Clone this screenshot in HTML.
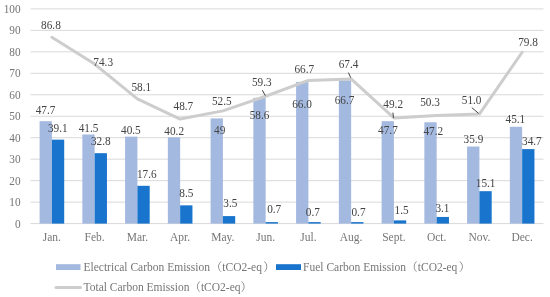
<!DOCTYPE html><html><head><meta charset="utf-8"><style>html,body{margin:0;padding:0;background:#fff;width:550px;height:297px;overflow:hidden}svg{display:block;filter:blur(0.35px)}text{font-family:'Liberation Serif', 'Noto Serif CJK SC', serif;fill:#767676}text.d{fill:#444444}</style></head><body>
<svg width="550" height="297" viewBox="0 0 550 297">
<rect width="550" height="297" fill="#fff"/>
<line x1="30.50" y1="223.60" x2="543.50" y2="223.60" stroke="#D9D9D9" stroke-width="1"/>
<line x1="30.50" y1="202.13" x2="543.50" y2="202.13" stroke="#D9D9D9" stroke-width="1"/>
<line x1="30.50" y1="180.66" x2="543.50" y2="180.66" stroke="#D9D9D9" stroke-width="1"/>
<line x1="30.50" y1="159.19" x2="543.50" y2="159.19" stroke="#D9D9D9" stroke-width="1"/>
<line x1="30.50" y1="137.72" x2="543.50" y2="137.72" stroke="#D9D9D9" stroke-width="1"/>
<line x1="30.50" y1="116.25" x2="543.50" y2="116.25" stroke="#D9D9D9" stroke-width="1"/>
<line x1="30.50" y1="94.78" x2="543.50" y2="94.78" stroke="#D9D9D9" stroke-width="1"/>
<line x1="30.50" y1="73.31" x2="543.50" y2="73.31" stroke="#D9D9D9" stroke-width="1"/>
<line x1="30.50" y1="51.84" x2="543.50" y2="51.84" stroke="#D9D9D9" stroke-width="1"/>
<line x1="30.50" y1="30.37" x2="543.50" y2="30.37" stroke="#D9D9D9" stroke-width="1"/>
<line x1="30.50" y1="8.90" x2="543.50" y2="8.90" stroke="#D9D9D9" stroke-width="1"/>
<text transform="translate(20.6 227.65) scale(0.98 1)" font-size="11.5" text-anchor="end">0</text>
<text transform="translate(20.6 206.18) scale(0.98 1)" font-size="11.5" text-anchor="end">10</text>
<text transform="translate(20.6 184.71) scale(0.98 1)" font-size="11.5" text-anchor="end">20</text>
<text transform="translate(20.6 163.24) scale(0.98 1)" font-size="11.5" text-anchor="end">30</text>
<text transform="translate(20.6 141.77) scale(0.98 1)" font-size="11.5" text-anchor="end">40</text>
<text transform="translate(20.6 120.30) scale(0.98 1)" font-size="11.5" text-anchor="end">50</text>
<text transform="translate(20.6 98.83) scale(0.98 1)" font-size="11.5" text-anchor="end">60</text>
<text transform="translate(20.6 77.36) scale(0.98 1)" font-size="11.5" text-anchor="end">70</text>
<text transform="translate(20.6 55.89) scale(0.98 1)" font-size="11.5" text-anchor="end">80</text>
<text transform="translate(20.6 34.42) scale(0.98 1)" font-size="11.5" text-anchor="end">90</text>
<text transform="translate(20.6 12.95) scale(0.98 1)" font-size="11.5" text-anchor="end">100</text>
<rect x="39.60" y="121.19" width="12.30" height="102.41" fill="#A4B9DF"/>
<rect x="51.90" y="139.65" width="12.30" height="83.95" fill="#1874CD"/>
<rect x="82.35" y="134.50" width="12.30" height="89.10" fill="#A4B9DF"/>
<rect x="94.65" y="153.18" width="12.30" height="70.42" fill="#1874CD"/>
<rect x="125.10" y="136.65" width="12.30" height="86.95" fill="#A4B9DF"/>
<rect x="137.40" y="185.81" width="12.30" height="37.79" fill="#1874CD"/>
<rect x="167.85" y="137.29" width="12.30" height="86.31" fill="#A4B9DF"/>
<rect x="180.15" y="205.35" width="12.30" height="18.25" fill="#1874CD"/>
<rect x="210.60" y="118.40" width="12.30" height="105.20" fill="#A4B9DF"/>
<rect x="222.90" y="216.09" width="12.30" height="7.51" fill="#1874CD"/>
<rect x="253.35" y="97.79" width="12.30" height="125.81" fill="#A4B9DF"/>
<rect x="265.65" y="222.10" width="12.30" height="1.50" fill="#1874CD"/>
<rect x="296.10" y="81.90" width="12.30" height="141.70" fill="#A4B9DF"/>
<rect x="308.40" y="222.10" width="12.30" height="1.50" fill="#1874CD"/>
<rect x="338.85" y="80.40" width="12.30" height="143.20" fill="#A4B9DF"/>
<rect x="351.15" y="222.10" width="12.30" height="1.50" fill="#1874CD"/>
<rect x="381.60" y="121.19" width="12.30" height="102.41" fill="#A4B9DF"/>
<rect x="393.90" y="220.38" width="12.30" height="3.22" fill="#1874CD"/>
<rect x="424.35" y="122.26" width="12.30" height="101.34" fill="#A4B9DF"/>
<rect x="436.65" y="216.94" width="12.30" height="6.66" fill="#1874CD"/>
<rect x="467.10" y="146.52" width="12.30" height="77.08" fill="#A4B9DF"/>
<rect x="479.40" y="191.18" width="12.30" height="32.42" fill="#1874CD"/>
<rect x="509.85" y="126.77" width="12.30" height="96.83" fill="#A4B9DF"/>
<rect x="522.15" y="149.10" width="12.30" height="74.50" fill="#1874CD"/>
<polyline points="51.88,37.24 94.62,64.08 137.38,98.86 180.12,119.04 222.88,110.88 265.62,96.28 308.38,80.40 351.12,78.89 393.88,117.97 436.62,115.61 479.38,114.10 522.12,52.27" fill="none" stroke="#CDCDCD" stroke-width="3" stroke-linejoin="round" stroke-linecap="round"/>
<line x1="262.3" y1="90.2" x2="265.3" y2="95.6" stroke="#444444" stroke-width="1"/>
<line x1="348.4" y1="72.6" x2="350.8" y2="77.8" stroke="#444444" stroke-width="1"/>
<line x1="392.9" y1="112.6" x2="393.5" y2="118.0" stroke="#444444" stroke-width="1"/>
<line x1="471.8" y1="107.7" x2="478.6" y2="113.4" stroke="#444444" stroke-width="1"/>
<text class="d" transform="translate(45.55 114.38) scale(0.98 1)" font-size="11.5" text-anchor="middle">47.7</text>
<text class="d" transform="translate(88.53 131.68) scale(0.98 1)" font-size="11.5" text-anchor="middle">41.5</text>
<text class="d" transform="translate(130.88 133.62) scale(0.98 1)" font-size="11.5" text-anchor="middle">40.5</text>
<text class="d" transform="translate(174.18 135.32) scale(0.98 1)" font-size="11.5" text-anchor="middle">40.2</text>
<text class="d" transform="translate(219.72 134.40) scale(0.98 1)" font-size="11.5" text-anchor="middle">49</text>
<text class="d" transform="translate(259.50 119.33) scale(0.98 1)" font-size="11.5" text-anchor="middle">58.6</text>
<text class="d" transform="translate(302.00 107.78) scale(0.98 1)" font-size="11.5" text-anchor="middle">66.0</text>
<text class="d" transform="translate(344.52 103.62) scale(0.98 1)" font-size="11.5" text-anchor="middle">66.7</text>
<text class="d" transform="translate(387.95 133.73) scale(0.98 1)" font-size="11.5" text-anchor="middle">47.7</text>
<text class="d" transform="translate(433.27 135.32) scale(0.98 1)" font-size="11.5" text-anchor="middle">47.2</text>
<text class="d" transform="translate(473.45 143.22) scale(0.98 1)" font-size="11.5" text-anchor="middle">35.9</text>
<text class="d" transform="translate(515.40 123.42) scale(0.98 1)" font-size="11.5" text-anchor="middle">45.1</text>
<text class="d" transform="translate(57.73 131.78) scale(0.98 1)" font-size="11.5" text-anchor="middle">39.1</text>
<text class="d" transform="translate(100.80 144.72) scale(0.98 1)" font-size="11.5" text-anchor="middle">32.8</text>
<text class="d" transform="translate(146.73 178.47) scale(0.98 1)" font-size="11.5" text-anchor="middle">17.6</text>
<text class="d" transform="translate(186.40 196.98) scale(0.98 1)" font-size="11.5" text-anchor="middle">8.5</text>
<text class="d" transform="translate(230.30 206.93) scale(0.98 1)" font-size="11.5" text-anchor="middle">3.5</text>
<text class="d" transform="translate(274.20 212.62) scale(0.98 1)" font-size="11.5" text-anchor="middle">0.7</text>
<text class="d" transform="translate(312.90 216.38) scale(0.98 1)" font-size="11.5" text-anchor="middle">0.7</text>
<text class="d" transform="translate(358.50 216.38) scale(0.98 1)" font-size="11.5" text-anchor="middle">0.7</text>
<text class="d" transform="translate(401.55 213.82) scale(0.98 1)" font-size="11.5" text-anchor="middle">1.5</text>
<text class="d" transform="translate(442.43 211.57) scale(0.98 1)" font-size="11.5" text-anchor="middle">3.1</text>
<text class="d" transform="translate(485.62 186.88) scale(0.98 1)" font-size="11.5" text-anchor="middle">15.1</text>
<text class="d" transform="translate(531.88 144.53) scale(0.98 1)" font-size="11.5" text-anchor="middle">34.7</text>
<text class="d" transform="translate(50.95 28.88) scale(0.98 1)" font-size="11.5" text-anchor="middle">86.8</text>
<text class="d" transform="translate(103.17 66.47) scale(0.98 1)" font-size="11.5" text-anchor="middle">74.3</text>
<text class="d" transform="translate(141.30 90.62) scale(0.98 1)" font-size="11.5" text-anchor="middle">58.1</text>
<text class="d" transform="translate(183.40 109.58) scale(0.98 1)" font-size="11.5" text-anchor="middle">48.7</text>
<text class="d" transform="translate(221.77 104.53) scale(0.98 1)" font-size="11.5" text-anchor="middle">52.5</text>
<text class="d" transform="translate(261.73 85.78) scale(0.98 1)" font-size="11.5" text-anchor="middle">59.3</text>
<text class="d" transform="translate(304.27 72.92) scale(0.98 1)" font-size="11.5" text-anchor="middle">66.7</text>
<text class="d" transform="translate(348.57 67.88) scale(0.98 1)" font-size="11.5" text-anchor="middle">67.4</text>
<text class="d" transform="translate(393.17 108.28) scale(0.98 1)" font-size="11.5" text-anchor="middle">49.2</text>
<text class="d" transform="translate(429.98 105.97) scale(0.98 1)" font-size="11.5" text-anchor="middle">50.3</text>
<text class="d" transform="translate(471.62 103.72) scale(0.98 1)" font-size="11.5" text-anchor="middle">51.0</text>
<text class="d" transform="translate(528.02 46.42) scale(0.98 1)" font-size="11.5" text-anchor="middle">79.8</text>
<text x="51.88" y="241.1" font-size="11.5" text-anchor="middle">Jan.</text>
<text x="94.62" y="241.1" font-size="11.5" text-anchor="middle">Feb.</text>
<text x="137.38" y="241.1" font-size="11.5" text-anchor="middle">Mar.</text>
<text x="180.12" y="241.1" font-size="11.5" text-anchor="middle">Apr.</text>
<text x="222.88" y="241.1" font-size="11.5" text-anchor="middle">May.</text>
<text x="265.62" y="241.1" font-size="11.5" text-anchor="middle">Jun.</text>
<text x="308.38" y="241.1" font-size="11.5" text-anchor="middle">Jul.</text>
<text x="351.12" y="241.1" font-size="11.5" text-anchor="middle">Aug.</text>
<text x="393.88" y="241.1" font-size="11.5" text-anchor="middle">Sept.</text>
<text x="436.62" y="241.1" font-size="11.5" text-anchor="middle">Oct.</text>
<text x="479.38" y="241.1" font-size="11.5" text-anchor="middle">Nov.</text>
<text x="522.12" y="241.1" font-size="11.5" text-anchor="middle">Dec.</text>
<rect x="56" y="264.2" width="24.5" height="5.8" fill="#A4B9DF"/>
<text x="83.5" y="271.4" font-size="11.5">Electrical Carbon Emission<tspan dx="0.9">（tCO2-eq</tspan><tspan dx="1.2">）</tspan></text>
<rect x="276" y="264.2" width="25" height="5.8" fill="#1874CD"/>
<text x="303.1" y="271.4" font-size="11.5">Fuel Carbon Emission<tspan dx="0.3">（tCO2-eq</tspan><tspan dx="1.3">）</tspan></text>
<line x1="56" y1="287.4" x2="80.5" y2="287.4" stroke="#CDCDCD" stroke-width="3" stroke-linecap="round"/>
<text x="83.5" y="291.3" font-size="11.5">Total Carbon Emission（tCO2-eq）</text>
</svg></body></html>
